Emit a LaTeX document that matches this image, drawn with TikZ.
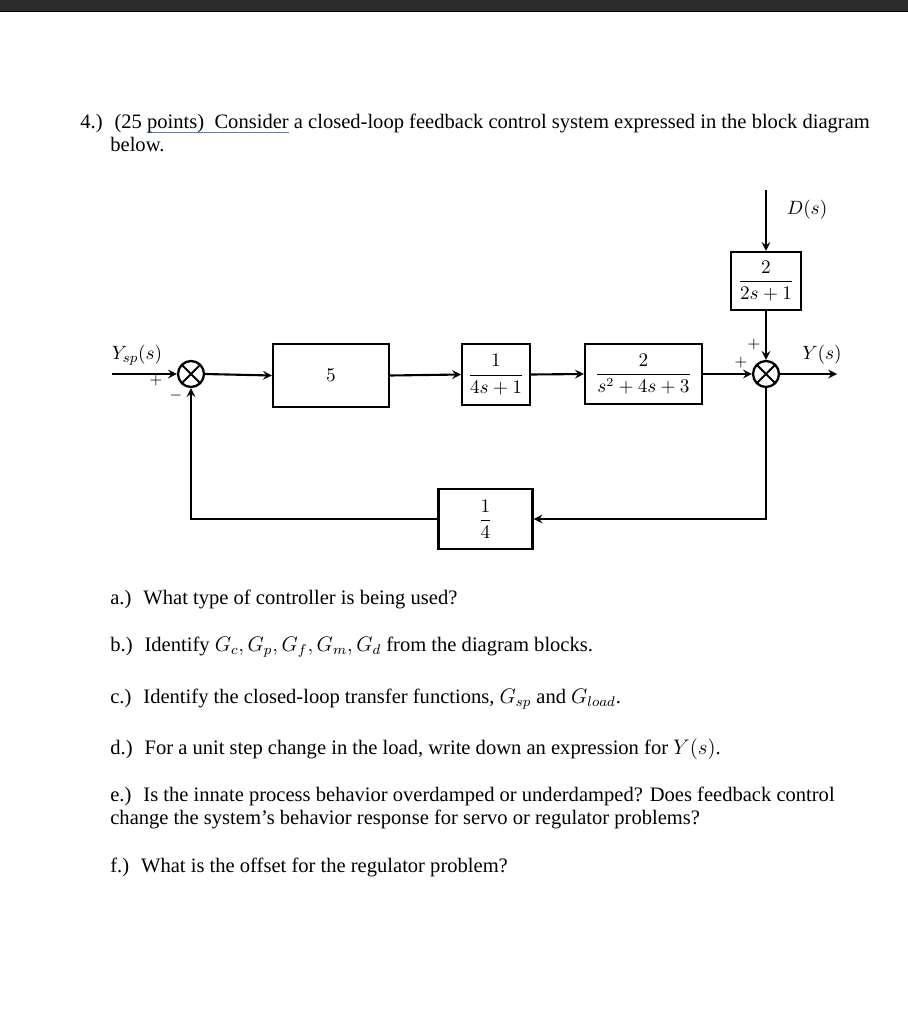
\documentclass[tikz,border=0pt]{standalone}
\usepackage{amsmath}
\usepackage{fontspec}
\setmainfont{Liberation Serif}
\usetikzlibrary{arrows}
\definecolor{topbar}{HTML}{2B2B2B}
\definecolor{spell}{HTML}{5B7FB5}
\tikzstyle{block} = [rectangle, draw=black, line width=1.3pt, fill=white,
    text centered, font=\fontsize{10.5}{12}\selectfont]
\tikzstyle{summer} = [circle, draw=black, line width=1.3pt, minimum size=0.52cm,
    inner sep=0pt, path picture={
        \draw[line width=1.1pt] (path picture bounding box.north west) -- (path picture bounding box.south east)
            (path picture bounding box.north east) -- (path picture bounding box.south west);}]
\tikzstyle{arrow} = [line width=1.2pt,->,>=stealth]
\tikzstyle{question} = [anchor=base west, inner sep=0pt, font=\fontsize{11.7}{13}\selectfont]
\tikzstyle{sign} = [inner sep=0pt, font=\fontsize{9}{10}\selectfont]
\tikzstyle{signal} = [inner sep=0pt, font=\fontsize{11}{12}\selectfont]
\newlength{\spellw}
\newcommand{\spellline}[1]{\settowidth{\spellw}{#1}\rlap{\textcolor{spell}{\rule[-2.5pt]{\spellw}{0.7pt}}}#1}

\begin{document}
\begin{tikzpicture}[x=0.02cm, y=-0.02cm]
                \useasboundingbox (0,0) rectangle (908,1024);
                \fill[white] (0,0) rectangle (908,1024);
                \fill[topbar] (0,0) rectangle (908,11);
                \draw[black, line width=0.8pt] (0,11.5) -- (908,11.5);

                % question text
                \node (q) [question] at (80,128.5) {4.)~ (25 \spellline{points)~ Consider} a closed-loop feedback control system expressed in the block diagram};
                \node (qb) [question] at (110,152) {below.};

                % blocks
                \node (sum1) [summer] at (191,374) {};
                \node (gc) [block, minimum width=2.32cm, minimum height=1.26cm] at (331,375.5) {$5$};
                \node (gf) [block, minimum width=1.24cm, minimum height=1.22cm] at (496,374.5) {$\dfrac{1}{4s+1}$};
                \node (gp) [block, minimum width=2.34cm, minimum height=1.2cm] at (643.5,374) {$\dfrac{2}{s^2+4s+3}$};
                \node (sum2) [summer] at (766,374) {};
                \node (gd) [block, minimum width=1.4cm, minimum height=1.16cm] at (766,281) {$\dfrac{2}{2s+1}$};
                \node (gm) [block, minimum width=1.88cm, minimum height=1.2cm] at (485.5,519) {$\dfrac{1}{4}$};

                \coordinate (in) at (112,374);
                \coordinate (out) at (837,374);
                \coordinate (din) at (766,190);

                % signals
                \node (ysp) [signal] at (137,355) {$Y_{sp}(s)$};
                \node (y) [signal] at (822,355) {$Y(s)$};
                \node (d) [signal] at (807,210) {$D(s)$};
                \node (p1) [sign] at (156,381) {$+$};
                \node (m1) [sign] at (176,396) {$-$};
                \node (p2) [sign] at (754,345) {$+$};
                \node (p3) [sign] at (741,363) {$+$};

                \draw [arrow] (in) -- (sum1.west);
                \draw [arrow] (sum1.east) -- (gc.west);
                \draw [arrow] (gc.east) -- (gf.west);
                \draw [arrow] (gf.east) -- (gp.west);
                \draw [arrow] (gp.east) -- (sum2.west);
                \draw [arrow] (sum2.east) -- (out);
                \draw [arrow] (din) -- (gd.north);
                \draw [arrow] (gd.south) -- (sum2.north);
                \draw [arrow] (sum2.south) |- (gm.east);
                \draw [arrow] (gm.west) -| (sum1.south);

                % questions
                \node (qa) [question] at (110,604) {a.)~ What type of controller is being used?};
                \node (qbb) [question] at (110,651) {b.)~ Identify $G_c, G_p, G_f, G_m, G_d$ from the diagram blocks.};
                \node (qc) [question] at (110,703) {c.)~ Identify the closed-loop transfer functions, $G_{sp}$ and $G_{load}$.};
                \node (qd) [question] at (110,754) {d.)~ For a unit step change in the load, write down an expression for $Y(s)$.};
                \node (qe) [question] at (110,801) {e.)~ Is the innate process behavior overdamped or underdamped? Does feedback control};
                \node (qe2) [question] at (110,824) {change the system's behavior response for servo or regulator problems?};
                \node (qf) [question] at (110,872) {f.)~ What is the offset for the regulator problem?};
            \end{tikzpicture}
\end{document}
